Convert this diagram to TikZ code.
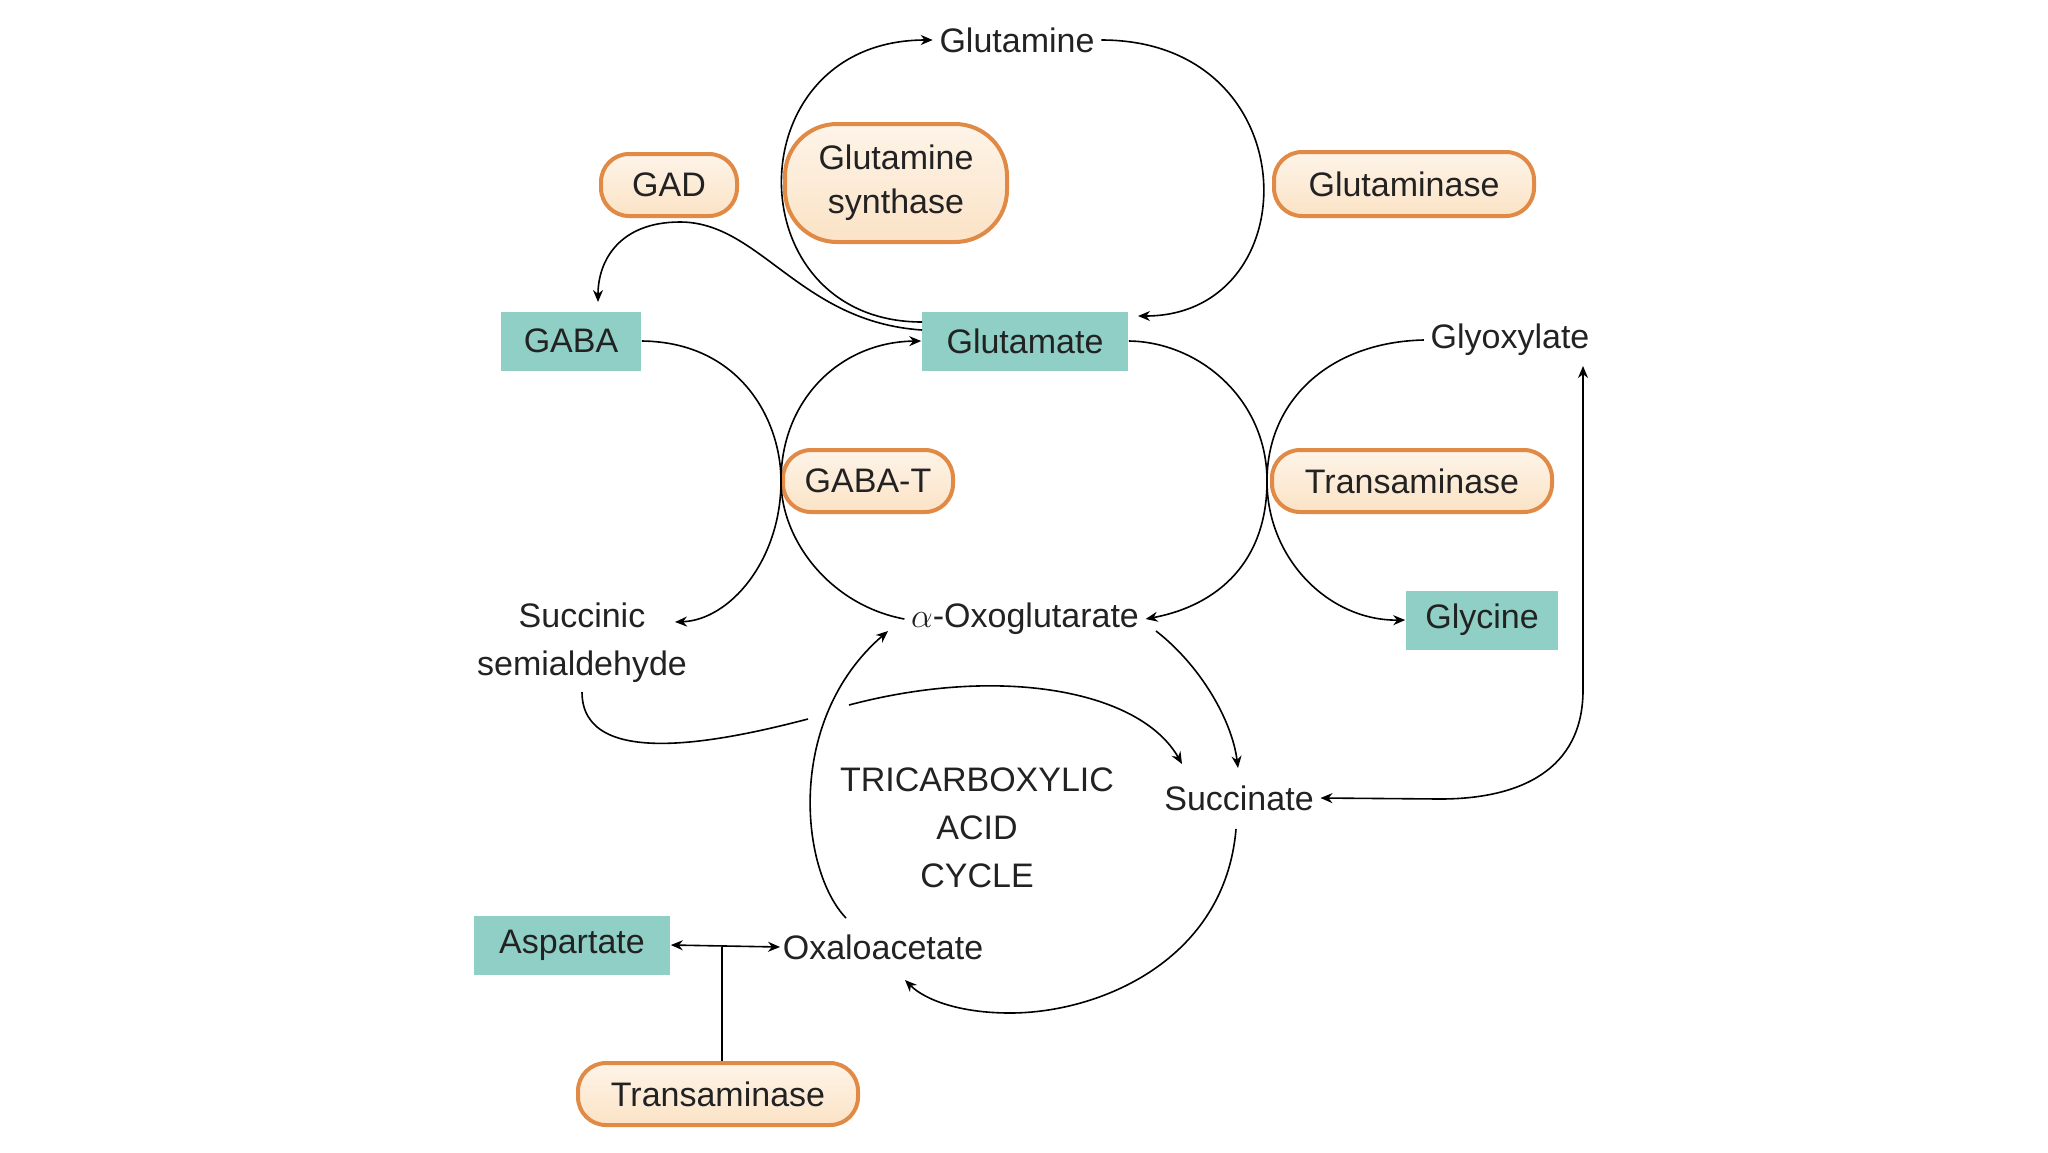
\documentclass[tikz,border=0pt]{standalone}
\usepackage{fontspec}
\setmainfont{Liberation Sans}
\usetikzlibrary{arrows.meta}
\definecolor{boxc}{HTML}{8FCFC6}
\definecolor{pillb}{HTML}{E08A45}
\definecolor{pillf}{HTML}{FBE3C6}
\definecolor{txt}{HTML}{222222}
\begin{document}
\begin{tikzpicture}[x=0.5pt,y=-0.5pt,
  every node/.style={font=\fontsize{17}{20}\selectfont,text=txt},
  box/.style={fill=boxc,inner sep=0pt},
  pill/.style={draw=pillb,line width=2pt,top color=pillf!40,bottom color=pillf,rounded corners=14pt,inner sep=0pt},
  lbl/.style={inner sep=3pt},
  arr/.style={-{Stealth[length=6pt,width=5pt]}},
  line width=0.8pt]
\useasboundingbox (0,0) rectangle (2048,1152);
\node[lbl] (gln) at (1017,40) {Glutamine};
\node[pill,minimum width=111pt,minimum height=59pt,rounded corners=26pt,align=center] (gs) at (896,183) {Glutamine\\[2pt]synthase};
\node[pill,minimum width=68pt,minimum height=31pt] (gad) at (669,185) {GAD};
\node[pill,minimum width=130pt,minimum height=32pt] (glnase) at (1404,184) {Glutaminase};
\node[box,minimum width=70pt,minimum height=29.5pt] (gaba) at (571,341) {GABA};
\node[box,minimum width=103pt,minimum height=29.5pt] (glu) at (1025,341) {Glutamate};
\node[lbl] (glyox) at (1510,340) {Glyoxylate};
\node[pill,minimum width=85pt,minimum height=31pt] (gabat) at (868,481) {GABA-T};
\node[pill,minimum width=140pt,minimum height=31pt] (trans1) at (1412,481) {Transaminase};
\node[lbl,align=center] (ssa) at (582,643) {Succinic\\[4pt]semialdehyde};
\node[lbl] (aog) at (1025,619) {$\alpha$-Oxoglutarate};
\node[box,minimum width=76pt,minimum height=29.5pt] (gly) at (1482,620) {Glycine};
\node[lbl,align=center] (tca) at (977,828) {TRICARBOXYLIC\\[4pt]ACID\\[4pt]CYCLE};
\node[lbl] (succ) at (1239,798) {Succinate};
\node[box,minimum width=98pt,minimum height=29.5pt] (asp) at (572,945) {Aspartate};
\node[lbl,inner sep=1pt] (oaa) at (883,947) {Oxaloacetate};
\node[pill,minimum width=140pt,minimum height=31pt] (trans2) at (718,1094) {Transaminase};
\draw[arr] (922,322) .. controls (734,322) and (734,40) .. (gln.west);
\draw[arr] (gln.east) .. controls (1310,40) and (1310,316) .. (1138,316);
\draw[arr] (922,330) .. controls (800,322) and (760,222) .. (680,222) .. controls (620,222) and (598,260) .. (598,302);
\draw[arr] (gaba.east) .. controls (740,342) and (781,420) .. (781,481) .. controls (781,560) and (730,620) .. (675,622);
\draw[arr] (aog.west) .. controls (830,605) and (781,540) .. (781,481) .. controls (781,400) and (840,342) .. (glu.west);
\draw[arr] (glu.east) .. controls (1200,342) and (1267,400) .. (1267,481) .. controls (1267,560) and (1220,605) .. (aog.east);
\draw[arr] (glyox.west) .. controls (1330,342) and (1267,400) .. (1267,481) .. controls (1267,560) and (1330,621) .. (gly.west);
\draw[arr] (1156,631) .. controls (1200,665) and (1232,720) .. (1238,768);
\draw[arr] (1236,829) .. controls (1225,960) and (1100,1013) .. (1010,1013) .. controls (960,1013) and (925,1000) .. (905,980);
\draw[arr] (846,918) .. controls (800,870) and (785,720) .. (888,631);
\draw (582,692) .. controls (582,770) and (720,742) .. (808,719);
\draw[arr] (849,705) .. controls (1000,665) and (1140,690) .. (1182,764);
\draw[{Stealth[length=6pt,width=5pt]}-{Stealth[length=6pt,width=5pt]}] (1583,366) -- (1583,690) .. controls (1583,770) and (1520,799) .. (1440,799) -- (succ.east);
\draw[{Stealth[length=6pt,width=5pt]}-{Stealth[length=6pt,width=5pt]}] (asp.east) -- (oaa.west);
\draw (722,947) -- (trans2.north -| 722,0);
\end{tikzpicture}
\end{document}
